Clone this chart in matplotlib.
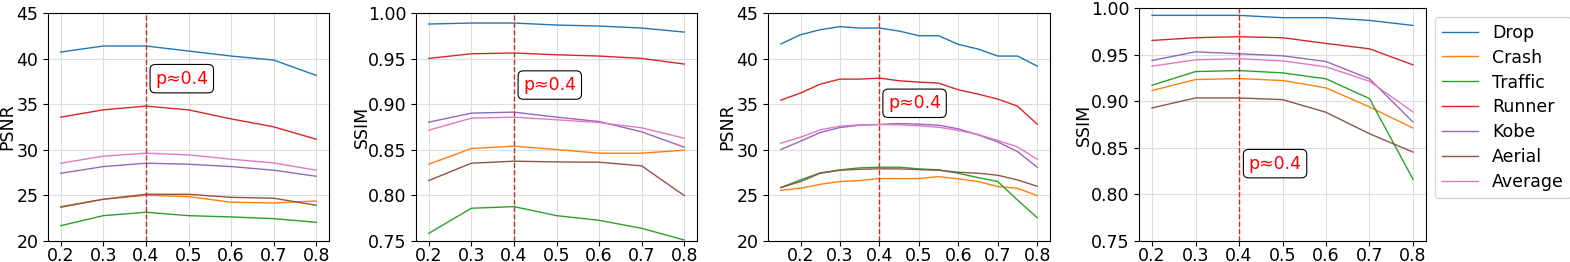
import matplotlib
matplotlib.use('Agg')
import matplotlib.pyplot as plt

#%% data
names = ['Drop', 'Crash', 'Traffic', 'Runner', 'Kobe', 'Aerial', 'Average']

p_coarse = [0.2, 0.3, 0.4, 0.5, 0.6, 0.7, 0.8]
p_fine = [0.15, 0.2, 0.25, 0.3, 0.35, 0.4, 0.45, 0.5, 0.55, 0.6, 0.65, 0.7, 0.75, 0.8]

# panel 1: PSNR
psnr_a = {
    'Drop':    [40.72, 41.38, 41.38, 40.83, 40.28, 39.84, 38.16],
    'Crash':   [23.77, 24.58, 25.01, 24.87, 24.25, 24.17, 24.39],
    'Traffic': [21.68, 22.78, 23.15, 22.78, 22.64, 22.45, 22.05],
    'Runner':  [33.58, 34.38, 34.79, 34.38, 33.39, 32.52, 31.16],
    'Kobe':    [27.43, 28.16, 28.53, 28.42, 28.16, 27.76, 27.10],
    'Aerial':  [23.70, 24.58, 25.12, 25.12, 24.79, 24.69, 23.92],
    'Average': [28.53, 29.30, 29.63, 29.44, 28.97, 28.56, 27.76],
}

# panel 2: SSIM
ssim_a = {
    'Drop':    [0.9879, 0.9890, 0.9890, 0.9868, 0.9857, 0.9835, 0.9791],
    'Crash':   [0.8342, 0.8514, 0.8540, 0.8503, 0.8463, 0.8463, 0.8496],
    'Traffic': [0.7584, 0.7859, 0.7877, 0.7778, 0.7727, 0.7639, 0.7511],
    'Runner':  [0.9502, 0.9553, 0.9561, 0.9542, 0.9528, 0.9502, 0.9440],
    'Kobe':    [0.8803, 0.8902, 0.8913, 0.8858, 0.8810, 0.8697, 0.8529],
    'Aerial':  [0.8163, 0.8353, 0.8375, 0.8367, 0.8364, 0.8324, 0.7998],
    'Average': [0.8715, 0.8847, 0.8858, 0.8829, 0.8799, 0.8741, 0.8627],
}

# panel 3: PSNR, finer p steps
psnr_b = {
    'Drop':    [41.60, 42.62, 43.17, 43.50, 43.35, 43.35, 43.02, 42.51, 42.51, 41.56, 41.05, 40.28, 40.28, 39.18],
    'Crash':   [25.56, 25.78, 26.22, 26.52, 26.63, 26.84, 26.84, 26.84, 27.06, 26.81, 26.52, 25.97, 25.78, 24.98],
    'Traffic': [25.86, 26.70, 27.47, 27.80, 28.02, 28.09, 28.09, 27.91, 27.80, 27.43, 26.95, 26.52, 24.50, 22.56],
    'Runner':  [35.45, 36.22, 37.20, 37.75, 37.75, 37.86, 37.57, 37.42, 37.31, 36.58, 36.11, 35.56, 34.79, 32.81],
    'Kobe':    [30.03, 30.94, 31.90, 32.44, 32.70, 32.77, 32.88, 32.81, 32.70, 32.30, 31.64, 30.87, 29.81, 28.09],
    'Aerial':  [25.86, 26.52, 27.43, 27.76, 27.87, 27.91, 27.91, 27.83, 27.76, 27.54, 27.43, 27.21, 26.70, 26.00],
    'Average': [30.72, 31.38, 32.19, 32.59, 32.74, 32.77, 32.74, 32.63, 32.48, 32.12, 31.68, 31.02, 30.32, 28.97],
}

# panel 4: SSIM
ssim_b = {
    'Drop':    [0.9921, 0.9921, 0.9921, 0.9896, 0.9896, 0.9867, 0.9813],
    'Crash':   [0.9114, 0.9232, 0.9243, 0.9222, 0.9143, 0.8938, 0.8712],
    'Traffic': [0.9171, 0.9318, 0.9329, 0.9304, 0.9240, 0.9028, 0.8164],
    'Runner':  [0.9652, 0.9681, 0.9692, 0.9681, 0.9620, 0.9562, 0.9390],
    'Kobe':    [0.9437, 0.9530, 0.9509, 0.9487, 0.9426, 0.9240, 0.8777],
    'Aerial':  [0.8928, 0.9035, 0.9035, 0.9017, 0.8881, 0.8651, 0.8454],
    'Average': [0.9376, 0.9444, 0.9455, 0.9433, 0.9369, 0.9214, 0.8885],
}

#%% figure
W, H = 1570, 262
fig = plt.figure(figsize=(W / 100, H / 100), dpi=100)


def box(l, t, r, b):
    return [l / W, (H - b) / H, (r - l) / W, (b - t) / H]


panels = [
    (box(48, 13, 329, 241), p_coarse, psnr_a, 'PSNR', (20, 45), [20, 25, 30, 35, 40, 45], 37.8, '%d', -0.113),
    (box(416, 13, 697, 241), p_coarse, ssim_a, 'SSIM', (0.75, 1.0), [0.75, 0.80, 0.85, 0.90, 0.95, 1.00], 0.921, '%.2f', -0.162),
    (box(768, 13, 1050, 241), p_fine, psnr_b, 'PSNR', (20, 45), [20, 25, 30, 35, 40, 45], 35.1, '%d', -0.113),
    (box(1139, 8, 1426, 241), p_coarse, ssim_b, 'SSIM', (0.75, 1.0), [0.75, 0.80, 0.85, 0.90, 0.95, 1.00], 0.833, '%.2f', -0.162),
]

for rect, xs, data, ylabel, ylim, yticks, txt_y, fmt, lab_x in panels:
    ax = fig.add_axes(rect)
    for name in names:
        ax.plot(xs, data[name], linewidth=1, label=name)
    ax.axvline(0.4, color='#d62728', linestyle='--', linewidth=1)
    ax.text(0.422, txt_y, 'p≈0.4', color='red', fontsize=12.5, ha='left', va='center',
            bbox=dict(boxstyle='round,pad=0.3', facecolor='white', edgecolor='black', linewidth=0.8))
    ax.set_ylim(*ylim)
    ax.set_yticks(yticks)
    ax.set_yticklabels([fmt % v for v in yticks])
    ax.set_xticks([0.2, 0.3, 0.4, 0.5, 0.6, 0.7, 0.8])
    ax.set_xticklabels(['0.2', '0.3', '0.4', '0.5', '0.6', '0.7', '0.8'])
    ax.tick_params(labelsize=12.5)
    ax.tick_params(axis='x', pad=1)
    ax.set_ylabel(ylabel, fontsize=12.5)
    ax.yaxis.set_label_coords(lab_x, 0.5)
    ax.grid(True, color='#dddddd', linewidth=0.8)

ax.legend(loc='upper left', bbox_to_anchor=(1.0, 1.0), fontsize=12.5, handlelength=2.1,
          labelspacing=0.4)

fig.savefig('out.png', dpi=100)
